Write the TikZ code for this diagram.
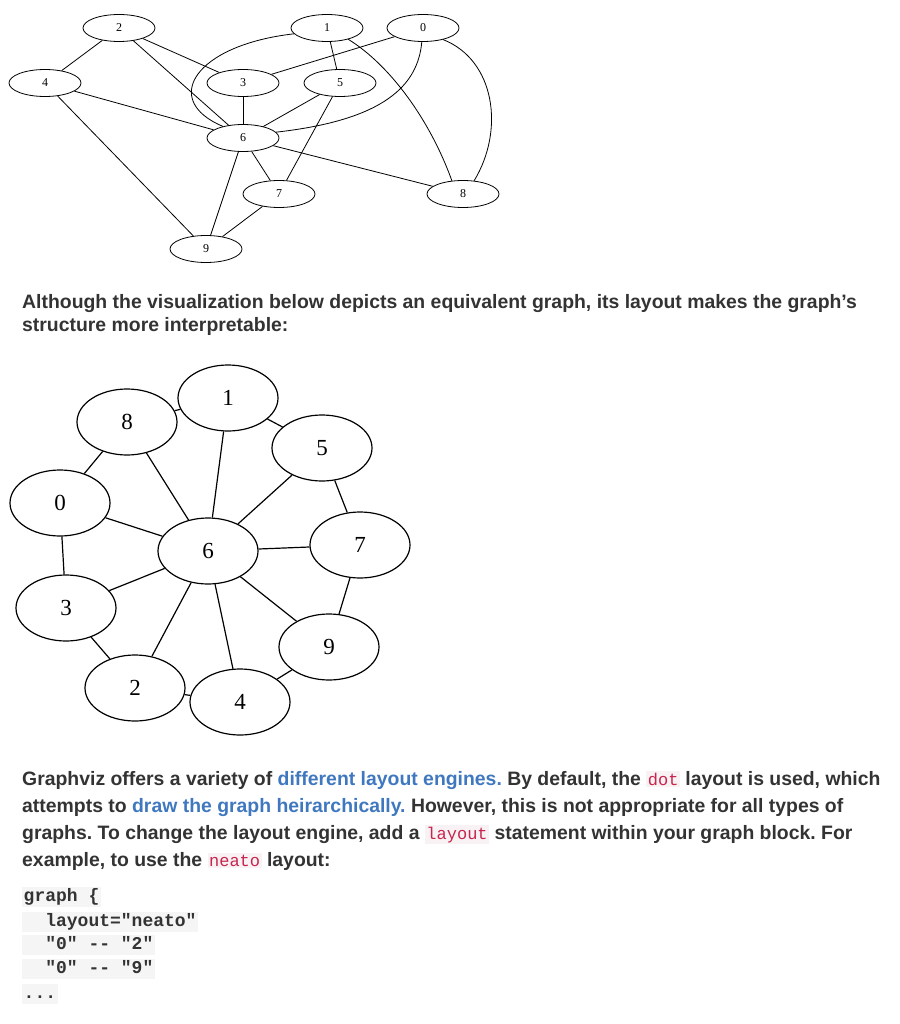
\documentclass[tikz,border=0pt]{standalone}
\usepackage{fontspec}
\setmainfont{Liberation Sans}
\newfontfamily\serifnum{Liberation Serif}
\newfontfamily\codefont{Liberation Mono}
\usetikzlibrary{shapes.geometric}
\definecolor{txt}{HTML}{333333}
\definecolor{linkblue}{HTML}{4078C0}
\definecolor{codered}{HTML}{C7254E}
\definecolor{codebg}{HTML}{F9F2F4}
\definecolor{blockbg}{HTML}{F5F5F5}
\newcommand\icode[1]{{\setlength\fboxsep{1.5pt}\colorbox{codebg}{\textcolor{codered}{\mdseries\codefont\fontsize{17}{17}\selectfont #1}}}}
\newcommand\lnk[1]{\textcolor{linkblue}{#1}}
\frenchspacing
\tikzset{
  sn/.style={ellipse, draw, line width=0.8pt, minimum width=72pt, minimum height=27pt, inner sep=0pt,
    font=\serifnum\fontsize{12}{12}\selectfont},
  bn/.style={ellipse, draw, line width=1.2pt, minimum width=100pt, minimum height=66pt, inner sep=0pt,
    font=\serifnum\fontsize{23}{23}\selectfont},
  se/.style={line width=0.8pt},
  be/.style={line width=1.2pt},
  para/.style={anchor=base west, inner sep=0pt, text=txt, font=\bfseries\fontsize{19.4}{22}\selectfont},
  codeline/.style={anchor=west, fill=blockbg, text=txt, inner xsep=1.5pt, inner ysep=1.5pt,
    text height=13pt, text depth=4pt, font=\codefont\bfseries\fontsize{18}{18}\selectfont}
}
\begin{document}
\begin{tikzpicture}[x=1pt,y=-1pt]
\fill[white] (0,0) rectangle (899,1024);
\useasboundingbox (0,0) rectangle (899,1024);
% ---------- top graph (dot) ----------
\node[sn] (t2) at (119,28) {2};
\node[sn] (t1) at (327,28) {1};
\node[sn] (t0) at (423,28) {0};
\node[sn] (t4) at (45,83) {4};
\node[sn] (t3) at (243,83) {3};
\node[sn] (t5) at (340,83) {5};
\node[sn] (t6) at (243,138) {6};
\node[sn] (t7) at (279,194) {7};
\node[sn] (t8) at (463,194) {8};
\node[sn] (t9) at (206,249) {9};
\draw[se] (t2) -- (t4);
\draw[se] (t2) -- (t6);
\draw[se] (t2) -- (t3);
\draw[se] (t1) -- (t5);
\draw[se] (t0) -- (t3);
\draw[se] (t4) -- (t6);
\draw[se] (t4) -- (t9);
\draw[se] (t3) -- (t6);
\draw[se] (t5) -- (t6);
\draw[se] (t5) -- (t7);
\draw[se] (t6) -- (t7);
\draw[se] (t6) -- (t9);
\draw[se] (t6) -- (t8);
\draw[se] (t7) -- (t9);
\draw[se] (t1.190) .. controls (195,45) and (160,100) .. (t6.150);
\draw[se] (t0.265) .. controls (418,85) and (385,120) .. (t6.10);
\draw[se] (t0.-30) .. controls (495,60) and (505,130) .. (t8.50);
\draw[se] (t1.-28) .. controls (390,65) and (430,120) .. (t8.130);
% ---------- paragraph 1 ----------
\node[para] (p1a) at (22,308) {Although the visualization below depicts an equivalent graph, its layout makes the graph’s};
\node[para] (p1b) at (22,331) {structure more interpretable:};
% ---------- bottom graph (neato) ----------
\node[bn] (b8) at (127,422) {8};
\node[bn] (b1) at (228,398) {1};
\node[bn] (b5) at (322,448) {5};
\node[bn] (b0) at (60,503) {0};
\node[bn] (b6) at (208,551) {6};
\node[bn] (b7) at (360,545) {7};
\node[bn] (b3) at (66,608) {3};
\node[bn] (b9) at (329,647) {9};
\node[bn] (b2) at (135,688) {2};
\node[bn] (b4) at (240,702) {4};
\draw[be] (b8) -- (b1);
\draw[be] (b1) -- (b5);
\draw[be] (b8) -- (b0);
\draw[be] (b8) -- (b6);
\draw[be] (b1) -- (b6);
\draw[be] (b5) -- (b6);
\draw[be] (b5) -- (b7);
\draw[be] (b0) -- (b6);
\draw[be] (b0) -- (b3);
\draw[be] (b6) -- (b7);
\draw[be] (b3) -- (b6);
\draw[be] (b3) -- (b2);
\draw[be] (b2) -- (b6);
\draw[be] (b4) -- (b6);
\draw[be] (b6) -- (b9);
\draw[be] (b7) -- (b9);
\draw[be] (b2) -- (b4);
\draw[be] (b4) -- (b9);
% ---------- paragraph 2 ----------
\node[para] (p2a) at (22,785) {Graphviz offers a variety of \lnk{different layout engines.} By default, the \icode{dot} layout is used, which};
\node[para] (p2b) at (22,812) {attempts to \lnk{draw the graph heirarchically.} However, this is not appropriate for all types of};
\node[para] (p2c) at (22,839) {graphs. To change the layout engine, add a \icode{layout} statement within your graph block. For};
\node[para] (p2d) at (22,866) {example, to use the \icode{neato} layout:};
% ---------- code block ----------
\node[codeline] (c1) at (22,896.5) {graph \{};
\node[codeline] (c2) at (22,922) {\hphantom{xx}layout="neato"};
\node[codeline] (c3) at (22,945) {\hphantom{xx}"0" -{}- "2"};
\node[codeline] (c4) at (22,969) {\hphantom{xx}"0" -{}- "9"};
\node[codeline] (c5) at (22,993.5) {...};
\end{tikzpicture}
\end{document}
